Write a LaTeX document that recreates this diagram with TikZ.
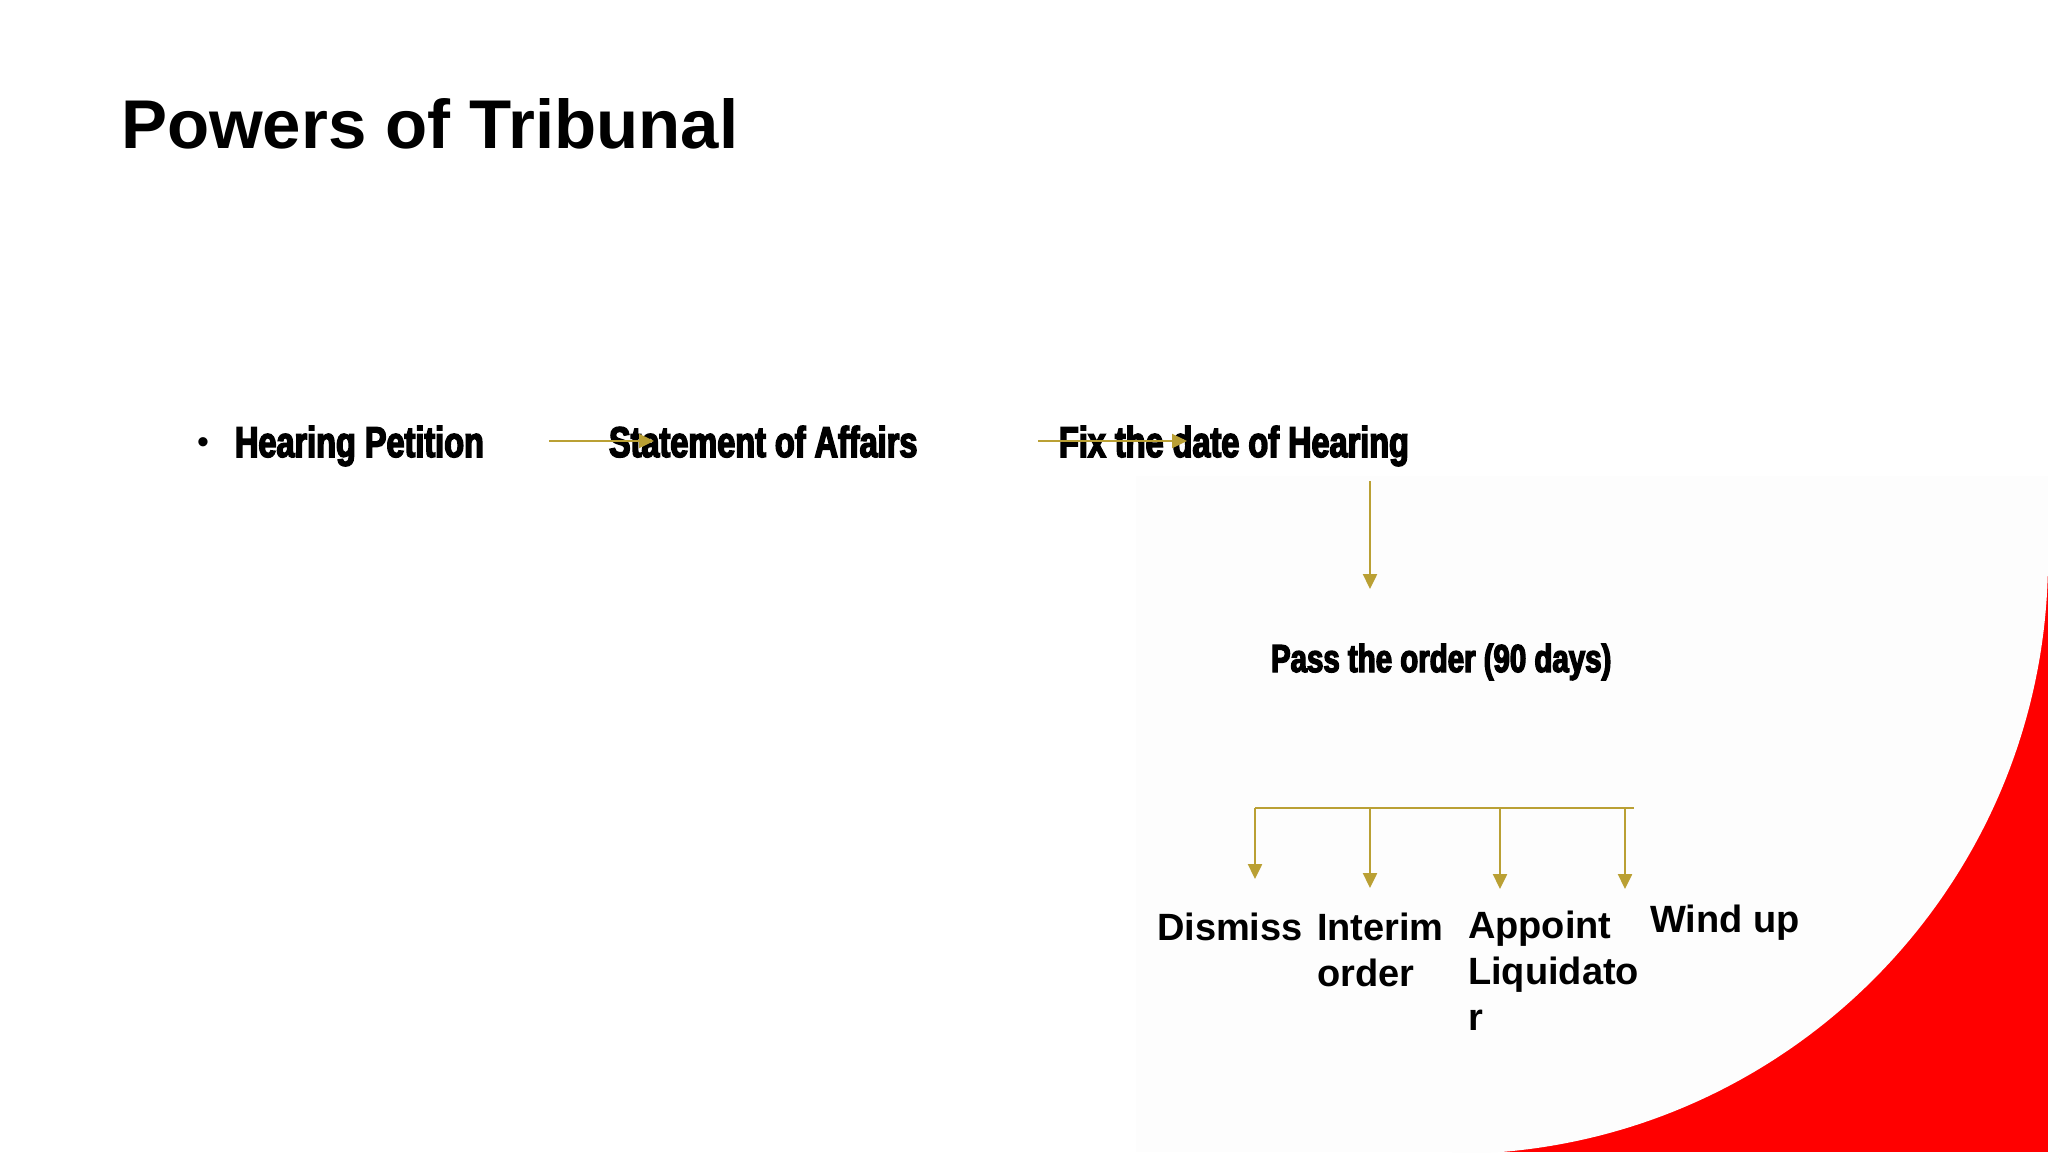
\documentclass[tikz,border=0pt]{standalone}
\usepackage{fontspec}
\setmainfont{Liberation Sans}
\newfontfamily\impactfont{Liberation Sans}[UprightFont={* Bold}, FakeStretch=0.755, FakeBold=3.5]
\usetikzlibrary{arrows.meta}
\definecolor{gold}{RGB}{186,160,52}
\definecolor{slidered}{RGB}{255,0,0}
\definecolor{panel}{RGB}{253,253,253}
\begin{document}
\begin{tikzpicture}[x=1pt,y=-1pt,
  every node/.style={inner sep=0pt, outer sep=0pt},
  titletext/.style={anchor=base west, font=\fontsize{69}{80}\selectfont\bfseries},
  steptext/.style={anchor=base west, font=\fontsize{43}{50}\selectfont\impactfont},
  smallstep/.style={anchor=base west, font=\fontsize{39}{46}\selectfont\impactfont},
  outcome/.style={anchor=base west, font=\fontsize{38}{46}\selectfont\bfseries},
  conn/.style={draw=gold, line width=2.4pt, -{Triangle[width=14pt,length=15pt]}},
  bar/.style={draw=gold, line width=2.4pt}]
\useasboundingbox (0,0) rectangle (2048,1152);
\fill[white] (0,0) rectangle (2048,1152);
\fill[panel] (1136,476) rectangle (2048,1152);
\begin{scope}
  \clip (1452,558) rectangle (2048,1152);
  \fill[slidered] (1452,558) rectangle (2048,1152);
  \fill[panel] (1452,558) circle[radius=596pt];
\end{scope}

\node[titletext] (title) at (121,148) {Powers of Tribunal};

\node[font=\fontsize{34}{36}\selectfont] (bullet) at (203,446) {\textbullet};
\node[steptext] (hp) at (235,457) {Hearing Petition};
\node[steptext] (soa) at (609,457) {Statement of Affairs};
\node[steptext] (fix) at (1059,457) {Fix the date of Hearing};
\node[smallstep] (pass) at (1271,672) {Pass the order (90 days)};

\node[outcome] (dis) at (1157,940) {Dismiss};
\node[outcome] (int) at (1317,940) {\begin{tabular}[t]{@{}l@{}}Interim\\order\end{tabular}};
\node[outcome] (app) at (1468,938) {\begin{tabular}[t]{@{}l@{}}Appoint\\Liquidato\\r\end{tabular}};
\node[outcome] (wind) at (1650,932) {Wind up};

\coordinate (a1s) at (549,441);
\coordinate (a1e) at (654,441);
\coordinate (a2s) at (1038,441);
\coordinate (a2e) at (1187,441);
\coordinate (vs) at (1370,481);
\coordinate (ve) at (1370,589);
\coordinate (bl) at (1255,808);
\coordinate (br) at (1634,808);
\coordinate (t1) at (1370,808);
\coordinate (t2) at (1500,808);
\coordinate (t3) at (1625,808);
\coordinate (e0) at (1255,879);
\coordinate (e1) at (1370,888);
\coordinate (e2) at (1500,889);
\coordinate (e3) at (1625,889);

\draw[conn] (a1s) -- (a1e);
\draw[conn] (a2s) -- (a2e);
\draw[conn] (vs) -- (ve);
\draw[bar] (bl) -- (br);
\draw[conn] (bl) -- (e0);
\draw[conn] (t1) -- (e1);
\draw[conn] (t2) -- (e2);
\draw[conn] (t3) -- (e3);
\end{tikzpicture}
\end{document}
